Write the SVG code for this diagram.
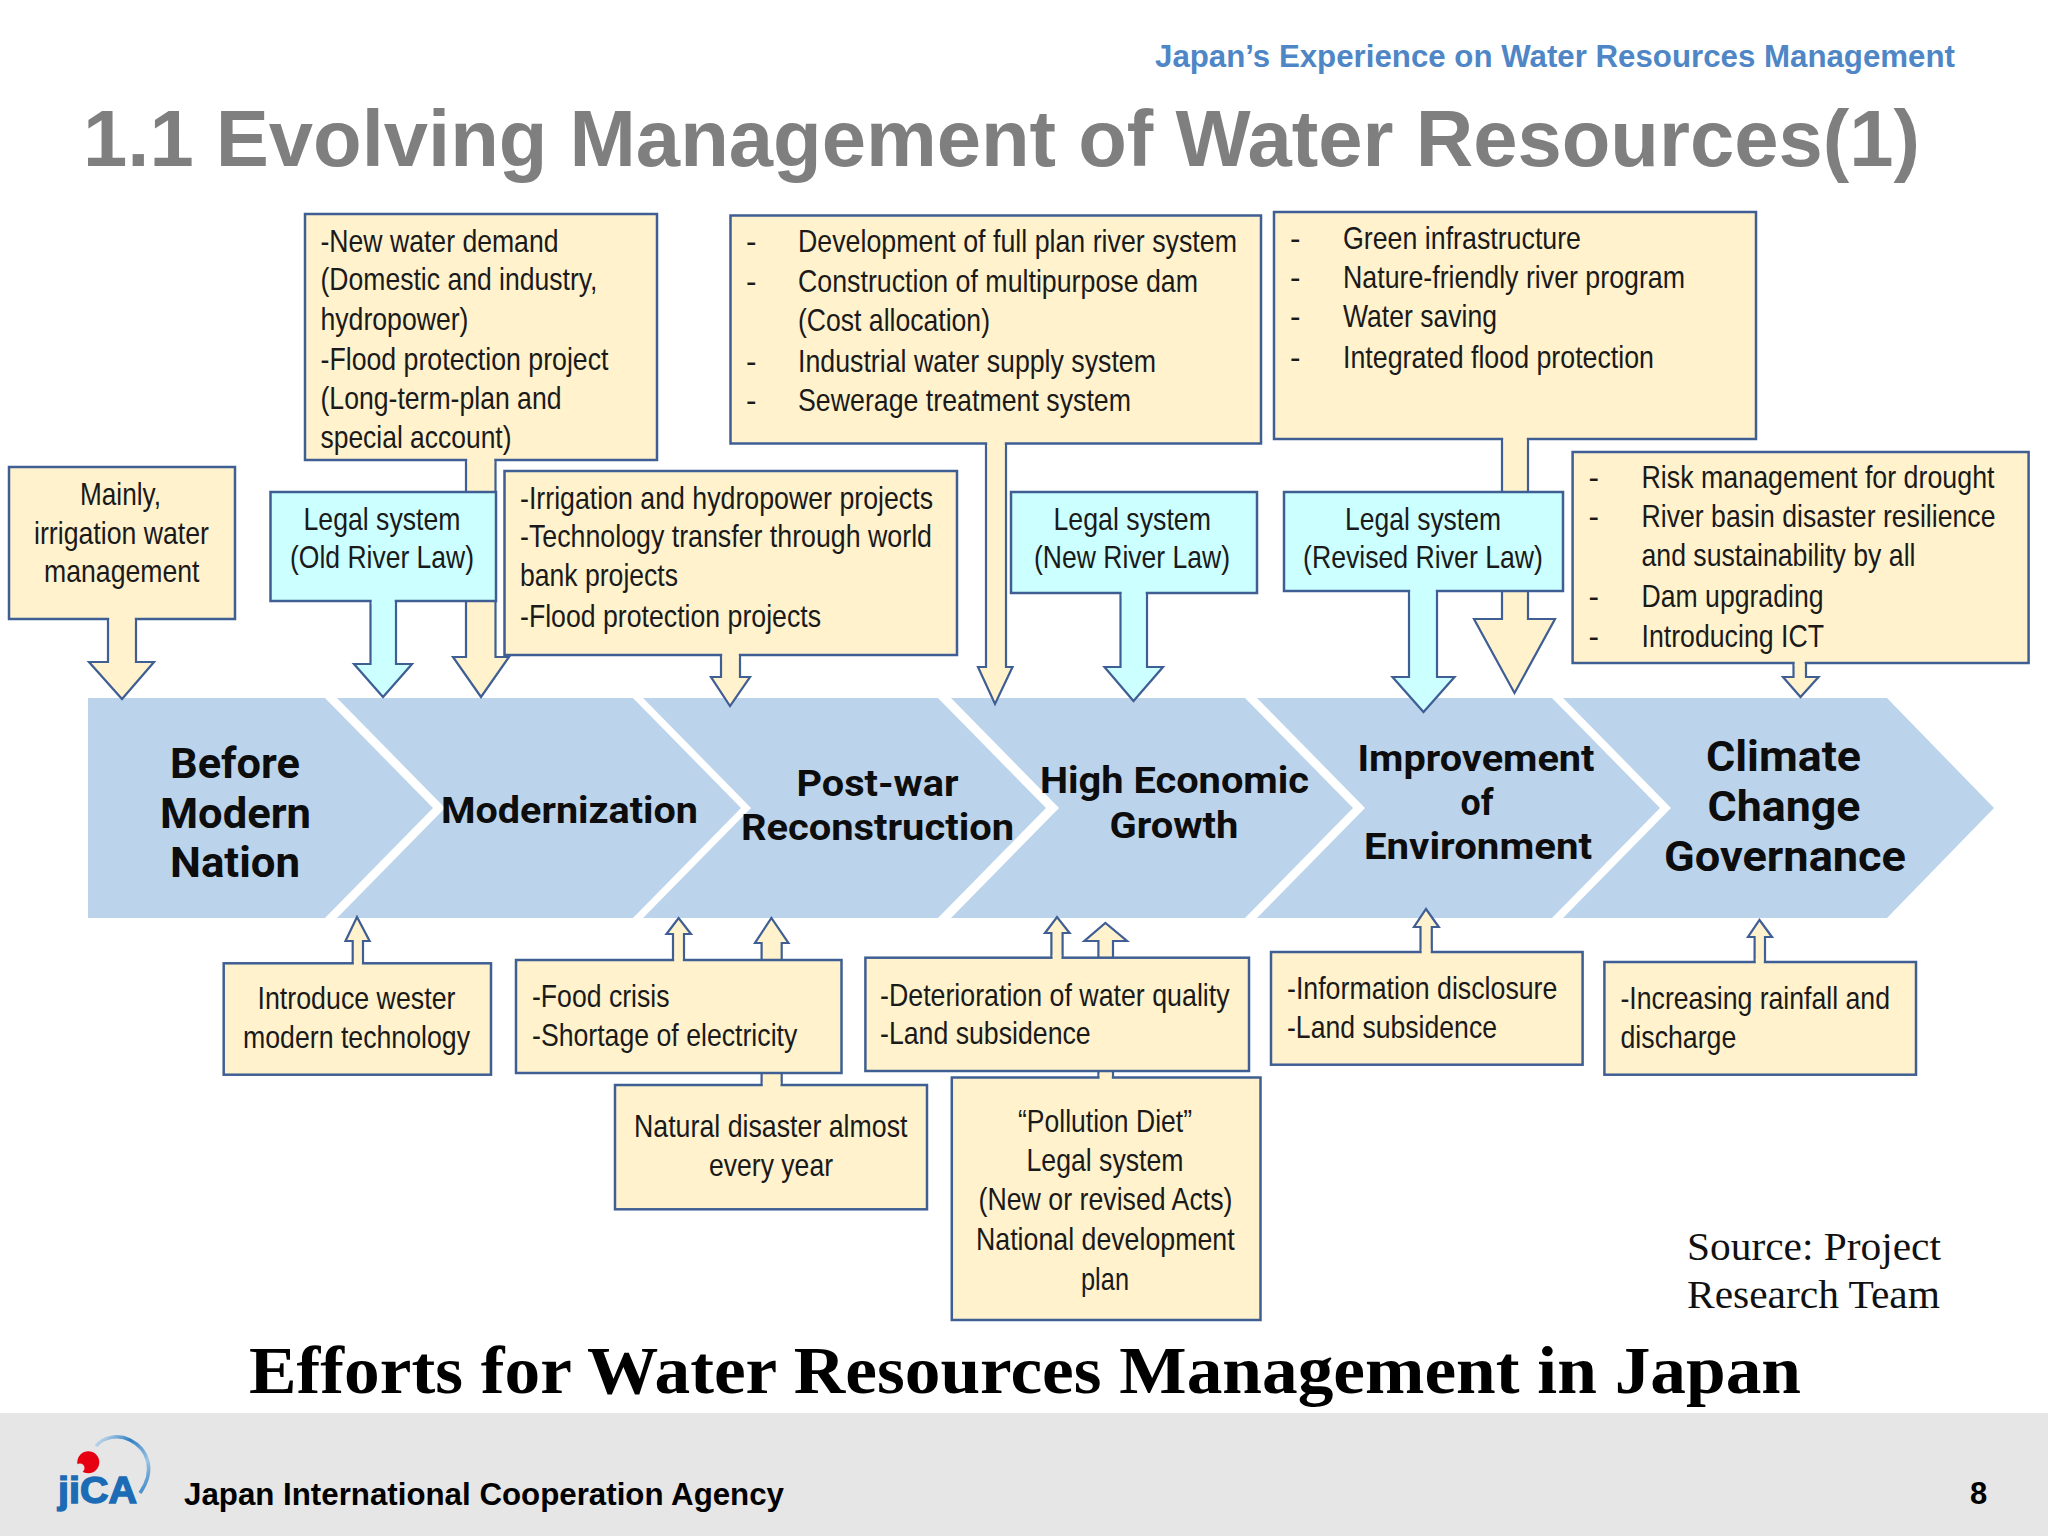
<svg xmlns="http://www.w3.org/2000/svg" width="2048" height="1536" viewBox="0 0 2048 1536">
<style>
text{font-family:"Liberation Sans",Arial,sans-serif;font-size:31.5px;fill:#1a1a1a}
.box{fill:#fff2cc;stroke:#3f5f94;stroke-width:2.5}
.law{fill:#ccffff;stroke:#3f5f94;stroke-width:2.5}
.arr{fill:#fff2cc;stroke:#3f5f94;stroke-width:2.2;stroke-linejoin:miter}
.arl{fill:#ccffff;stroke:#3f5f94;stroke-width:2.2;stroke-linejoin:miter}
.j{fill:#fff2cc}
.jl{fill:#ccffff}
.chev{fill:#bbd4ec}
.st{font-family:Roboto,"Liberation Sans",sans-serif;font-weight:700;font-size:42.5px;fill:#0d0d0d}
.st2{font-size:37.5px}
.src{font-family:"Liberation Serif",serif;font-size:40px;fill:#111}
</style>
<defs>
<linearGradient id="arc" x1="0" y1="0" x2="1" y2="1"><stop offset="0" stop-color="#dbe7f2"/><stop offset="0.35" stop-color="#2f7fc4"/><stop offset="0.7" stop-color="#9cc3e4"/><stop offset="1" stop-color="#2f7fc4"/></linearGradient>
</defs>
<rect width="2048" height="1536" fill="#fff"/>
<g id="header">
<text x="1155" y="66.5" style="font-size:31px;font-weight:700;fill:#4f86c6" textLength="800" lengthAdjust="spacingAndGlyphs">Japan’s Experience on Water Resources Management</text>
<text x="83" y="166" style="font-size:80px;font-weight:700;fill:#7f7f7f" textLength="1837" lengthAdjust="spacingAndGlyphs">1.1 Evolving Management of Water Resources(1)</text>
</g>
<g id="band">
<g id="stage-before"><path class="chev" d="M88 698H325L433 808L325 918H88Z"/>
<text class="st" x="170" y="777.5" textLength="130" lengthAdjust="spacingAndGlyphs">Before</text><text class="st" x="160" y="828" textLength="151" lengthAdjust="spacingAndGlyphs">Modern</text><text class="st" x="170" y="877" textLength="130" lengthAdjust="spacingAndGlyphs">Nation</text></g>
<g id="stage-modern"><path class="chev" d="M337 698H633L741 808L633 918H337L445 808Z"/>
<text class="st st2" x="441" y="823" textLength="257" lengthAdjust="spacingAndGlyphs">Modernization</text></g>
<g id="stage-postwar"><path class="chev" d="M643 698H938L1046 808L938 918H643L751 808Z"/>
<text class="st st2" x="796.5" y="796" textLength="162" lengthAdjust="spacingAndGlyphs">Post-war</text><text class="st st2" x="741" y="840" textLength="273" lengthAdjust="spacingAndGlyphs">Reconstruction</text></g>
<g id="stage-growth"><path class="chev" d="M951 698H1245L1353 808L1245 918H951L1059 808Z"/>
<text class="st st2" x="1040" y="793" textLength="269" lengthAdjust="spacingAndGlyphs">High Economic</text><text class="st st2" x="1109.5" y="838" textLength="129" lengthAdjust="spacingAndGlyphs">Growth</text></g>
<g id="stage-environment"><path class="chev" d="M1257 698H1552L1660 808L1552 918H1257L1365 808Z"/>
<text class="st st2" x="1357.5" y="770.5" textLength="237" lengthAdjust="spacingAndGlyphs">Improvement</text><text class="st st2" x="1460.5" y="815" textLength="33" lengthAdjust="spacingAndGlyphs">of</text><text class="st st2" x="1364" y="858.5" textLength="228" lengthAdjust="spacingAndGlyphs">Environment</text></g>
<g id="stage-climate"><path class="chev" d="M1563 698H1887L1994 808L1887 918H1563L1671 808Z"/>
<text class="st" x="1706" y="771" textLength="155" lengthAdjust="spacingAndGlyphs">Climate</text><text class="st" x="1707.5" y="821" textLength="153" lengthAdjust="spacingAndGlyphs">Change</text><text class="st" x="1664" y="871" textLength="242" lengthAdjust="spacingAndGlyphs">Governance</text></g>
</g>
<g id="connectors">
<path class="arr" d="M108 619V662H89L122 699L154 662H136V619"/>
<path class="arl" d="M370.5 601V664H354L383 697L412 664H396V601"/>
<path class="arr" d="M466 460V657H453L481 697L509 657H495.5V460"/>
<path class="arr" d="M721 655V677H711L730 706L750 677H740V655"/>
<path class="arr" d="M986 444V667H978L995 704L1012.5 667H1006V444"/>
<path class="arl" d="M1120.5 593V667H1104.5L1133.5 701L1163 667H1147V593"/>
<path class="arl" d="M1409 591V677H1392.5L1423.5 712L1454.5 677H1437V591"/>
<path class="arr" d="M1502 439V619H1474L1514.5 693L1555 619H1528V439"/>
<path class="arr" d="M1793.5 663V677H1783L1800.5 697L1818.5 677H1806V663"/>
<path class="arr" d="M352.7 963V941H345.5L357 917L369.6 941H363V963"/>
<path class="arr" d="M673 960V934H666.5L678.6 918L691 934H684V960"/>
<path class="arr" d="M761.6 1085V943H755L771.4 918L788.4 943H781.7V1085"/>
<path class="arr" d="M1051.4 958V933H1045L1057 917L1069.6 933H1062.6V958"/>
<path class="arr" d="M1098.4 1077V941H1084.4L1105.4 923L1127 941H1113V1077"/>
<path class="arr" d="M1420.5 952V927H1414L1426 909L1438.8 927H1431.8V952"/>
<path class="arr" d="M1754.6 962V937H1748L1759.5 920L1772 937H1765V962"/>
</g>
<g id="n-mainly"><rect class="box" x="9" y="467" width="226" height="152"/><rect class="j" x="109.2" y="616" width="25.6" height="6"/>
<text x="80" y="504.5" textLength="81" lengthAdjust="spacingAndGlyphs">Mainly,</text><text x="34" y="544" textLength="175" lengthAdjust="spacingAndGlyphs">irrigation water</text><text x="44" y="582" textLength="155.5" lengthAdjust="spacingAndGlyphs">management</text></g>
<g id="n-demand"><rect class="box" x="305" y="214" width="352" height="246"/><rect class="j" x="467.2" y="457" width="27" height="6"/>
<text x="320.5" y="251.7" textLength="238" lengthAdjust="spacingAndGlyphs">-New water demand</text><text x="320.5" y="290" textLength="277" lengthAdjust="spacingAndGlyphs">(Domestic and industry,</text><text x="320.5" y="330" textLength="148" lengthAdjust="spacingAndGlyphs">hydropower)</text><text x="320.5" y="370" textLength="288" lengthAdjust="spacingAndGlyphs">-Flood protection project</text><text x="320.5" y="408.5" textLength="241" lengthAdjust="spacingAndGlyphs">(Long-term-plan and</text><text x="320.5" y="447.5" textLength="191" lengthAdjust="spacingAndGlyphs">special account)</text></g>
<g id="n-law-old"><rect class="law" x="270.5" y="492" width="225.5" height="109"/><rect class="jl" x="371.7" y="598" width="23" height="6"/>
<text x="303.5" y="530" textLength="157" lengthAdjust="spacingAndGlyphs">Legal system</text><text x="290" y="568.3" textLength="184" lengthAdjust="spacingAndGlyphs">(Old River Law)</text></g>
<g id="n-irrigation"><rect class="box" x="504.5" y="471" width="452.5" height="184"/><rect class="j" x="722.2" y="652" width="16.6" height="6"/>
<text x="520" y="509" textLength="413" lengthAdjust="spacingAndGlyphs">-Irrigation and hydropower projects</text><text x="520" y="547" textLength="412" lengthAdjust="spacingAndGlyphs">-Technology transfer through world</text><text x="520" y="586" textLength="158" lengthAdjust="spacingAndGlyphs">bank projects</text><text x="520" y="627" textLength="301" lengthAdjust="spacingAndGlyphs">-Flood protection projects</text></g>
<g id="n-development"><rect class="box" x="730.5" y="215.5" width="530.5" height="228"/><rect class="j" x="987.2" y="441" width="17.6" height="6"/>
<text x="746" y="252">-</text><text x="798" y="252" textLength="439" lengthAdjust="spacingAndGlyphs">Development of full plan river system</text><text x="746" y="291.7">-</text><text x="798" y="291.7" textLength="400" lengthAdjust="spacingAndGlyphs">Construction of multipurpose dam</text><text x="798" y="330.7" textLength="192" lengthAdjust="spacingAndGlyphs">(Cost allocation)</text><text x="746" y="371.7">-</text><text x="798" y="371.7" textLength="358" lengthAdjust="spacingAndGlyphs">Industrial water supply system</text><text x="746" y="411">-</text><text x="798" y="411" textLength="333" lengthAdjust="spacingAndGlyphs">Sewerage treatment system</text></g>
<g id="n-law-new"><rect class="law" x="1011" y="492" width="246" height="101"/><rect class="jl" x="1121.7" y="590" width="24" height="6"/>
<text x="1053.5" y="530" textLength="157.5" lengthAdjust="spacingAndGlyphs">Legal system</text><text x="1034" y="568" textLength="196" lengthAdjust="spacingAndGlyphs">(New River Law)</text></g>
<g id="n-green"><rect class="box" x="1274" y="212" width="482" height="227"/><rect class="j" x="1503.2" y="436" width="23.6" height="6"/>
<text x="1290" y="249.3">-</text><text x="1343" y="249.3" textLength="238" lengthAdjust="spacingAndGlyphs">Green infrastructure</text><text x="1290" y="288.3">-</text><text x="1343" y="288.3" textLength="342" lengthAdjust="spacingAndGlyphs">Nature-friendly river program</text><text x="1290" y="326.7">-</text><text x="1343" y="326.7" textLength="154" lengthAdjust="spacingAndGlyphs">Water saving</text><text x="1290" y="367.7">-</text><text x="1343" y="367.7" textLength="311" lengthAdjust="spacingAndGlyphs">Integrated flood protection</text></g>
<g id="n-law-revised"><rect class="law" x="1284" y="492" width="279" height="99"/><rect class="jl" x="1410.2" y="588" width="25.6" height="6"/>
<text x="1345" y="530" textLength="156" lengthAdjust="spacingAndGlyphs">Legal system</text><text x="1303" y="568" textLength="240" lengthAdjust="spacingAndGlyphs">(Revised River Law)</text></g>
<g id="n-risk"><rect class="box" x="1572.6" y="452" width="456" height="211"/><rect class="j" x="1794.7" y="660" width="10" height="6"/>
<text x="1588.5" y="488.3">-</text><text x="1641.5" y="488.3" textLength="353" lengthAdjust="spacingAndGlyphs">Risk management for drought</text><text x="1588.5" y="527.3">-</text><text x="1641.5" y="527.3" textLength="354" lengthAdjust="spacingAndGlyphs">River basin disaster resilience</text><text x="1641.5" y="566" textLength="274" lengthAdjust="spacingAndGlyphs">and sustainability by all</text><text x="1588.5" y="607.3">-</text><text x="1641.5" y="607.3" textLength="182" lengthAdjust="spacingAndGlyphs">Dam upgrading</text><text x="1588.5" y="646.7">-</text><text x="1641.5" y="646.7" textLength="182.5" lengthAdjust="spacingAndGlyphs">Introducing ICT</text></g>
<g id="n-western"><rect class="box" x="223.7" y="963.3" width="267.3" height="111.4"/><rect class="j" x="353.9" y="960" width="8" height="6"/>
<text x="257.5" y="1009" textLength="198" lengthAdjust="spacingAndGlyphs">Introduce wester</text><text x="243" y="1048" textLength="227" lengthAdjust="spacingAndGlyphs">modern technology</text></g>
<g id="n-food"><rect class="box" x="516" y="960" width="325.5" height="113"/><rect class="j" x="674.2" y="957" width="8.6" height="6"/>
<text x="532" y="1006.5" textLength="137.5" lengthAdjust="spacingAndGlyphs">-Food crisis</text><text x="532" y="1045.5" textLength="265.3" lengthAdjust="spacingAndGlyphs">-Shortage of electricity</text></g>
<g id="n-natural"><rect class="box" x="615" y="1085" width="312" height="124.3"/><rect class="j" x="762.8" y="1082" width="17.7" height="6"/>
<text x="634" y="1137.3" textLength="273.5" lengthAdjust="spacingAndGlyphs">Natural disaster almost</text><text x="709" y="1176" textLength="124" lengthAdjust="spacingAndGlyphs">every year</text></g>
<g id="n-quality"><rect class="box" x="865.4" y="957.7" width="383.6" height="113.3"/><rect class="j" x="1052.6" y="955" width="8.8" height="6"/>
<text x="880" y="1005.5" textLength="349.6" lengthAdjust="spacingAndGlyphs">-Deterioration of water quality</text><text x="880" y="1043.8" textLength="210.7" lengthAdjust="spacingAndGlyphs">-Land subsidence</text></g>
<g id="n-pollution"><rect class="box" x="951.8" y="1077.5" width="308.7" height="242.5"/><rect class="j" x="1099.6" y="1074" width="12.2" height="6"/>
<text x="1018" y="1131.7" textLength="174" lengthAdjust="spacingAndGlyphs">“Pollution Diet”</text><text x="1026.5" y="1170.7" textLength="157" lengthAdjust="spacingAndGlyphs">Legal system</text><text x="978.5" y="1210" textLength="254" lengthAdjust="spacingAndGlyphs">(New or revised Acts)</text><text x="976" y="1250" textLength="258.6" lengthAdjust="spacingAndGlyphs">National development</text><text x="1081" y="1290" textLength="48" lengthAdjust="spacingAndGlyphs">plan</text></g>
<g id="n-information"><rect class="box" x="1271" y="952" width="311.6" height="112.7"/><rect class="j" x="1421.7" y="949" width="9" height="6"/>
<text x="1287" y="999" textLength="270.4" lengthAdjust="spacingAndGlyphs">-Information disclosure</text><text x="1287" y="1037.7" textLength="210" lengthAdjust="spacingAndGlyphs">-Land subsidence</text></g>
<g id="n-rainfall"><rect class="box" x="1604.4" y="962" width="311.6" height="112.7"/><rect class="j" x="1755.8" y="959" width="8" height="6"/>
<text x="1620.5" y="1009" textLength="269.5" lengthAdjust="spacingAndGlyphs">-Increasing rainfall and</text><text x="1620.5" y="1047.5" textLength="115.8" lengthAdjust="spacingAndGlyphs">discharge</text></g>
<g id="source">
<text class="src" x="1687" y="1260" textLength="254" lengthAdjust="spacingAndGlyphs">Source: Project</text>
<text class="src" x="1687" y="1308" textLength="253" lengthAdjust="spacingAndGlyphs">Research Team</text>
</g>
<text id="caption" x="249" y="1392.7" style="font-family:'Liberation Serif',serif;font-size:68px;font-weight:700;fill:#000" textLength="1552" lengthAdjust="spacingAndGlyphs">Efforts for Water Resources Management in Japan</text>
<g id="footer">
<rect x="0" y="1413" width="2048" height="123" fill="#e6e6e6"/>
<path d="M96 1446C103 1437 118 1434 130 1440C148 1449 156 1470 140 1493" fill="none" stroke="url(#arc)" stroke-width="3.5"/>
<circle cx="88.3" cy="1462.3" r="11" fill="#e60012"/>
<circle cx="80" cy="1468" r="4.5" fill="#e6e6e6"/>
<text x="58" y="1503" style="font-size:37px;font-weight:700;fill:#1b6cb5;stroke:#1b6cb5;stroke-width:1.4" textLength="79" lengthAdjust="spacingAndGlyphs">jiCA</text>
<text x="184" y="1504.5" style="font-size:31px;font-weight:700;fill:#000" textLength="600" lengthAdjust="spacingAndGlyphs">Japan International Cooperation Agency</text>
<text x="1970" y="1503.5" style="font-size:31px;font-weight:700;fill:#000">8</text>
</g>
</svg>
